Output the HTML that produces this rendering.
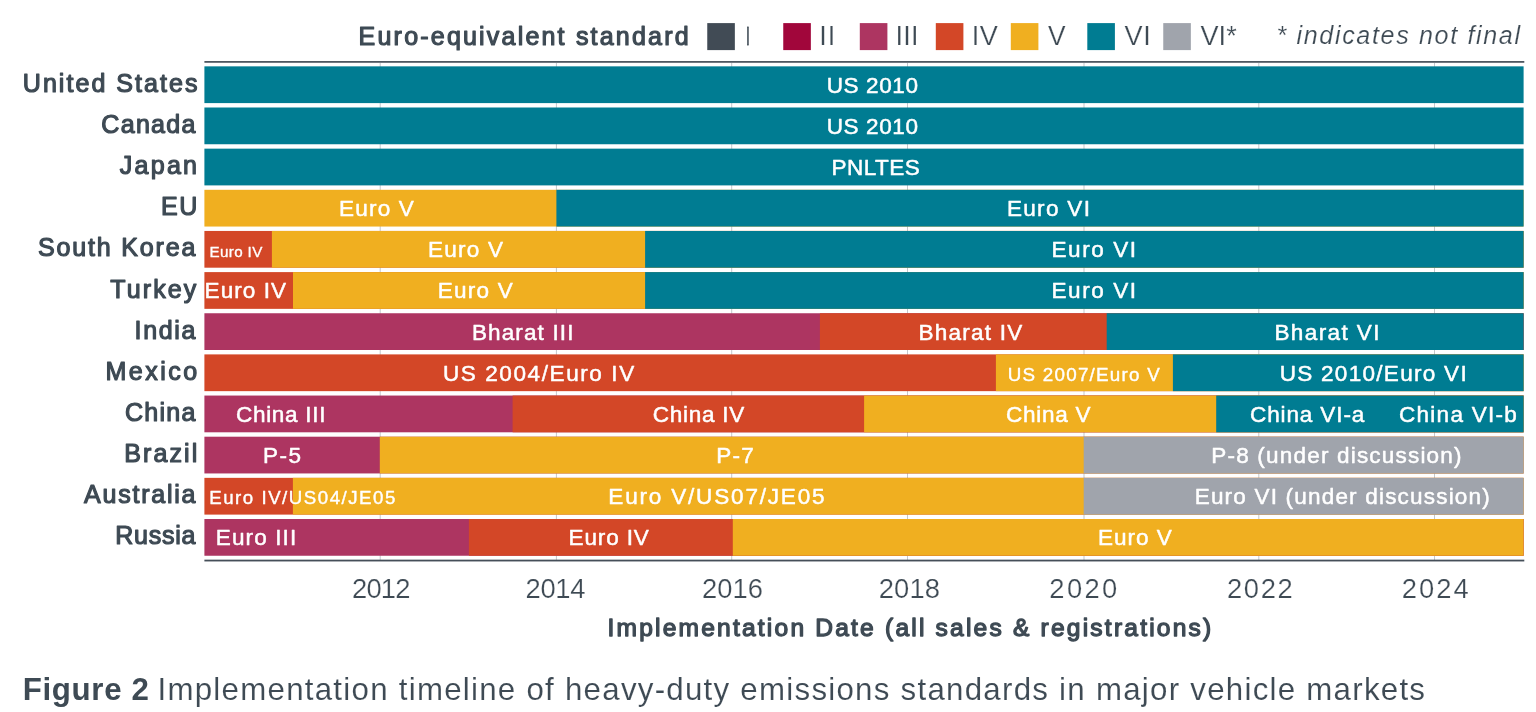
<!DOCTYPE html>
<html><head><meta charset="utf-8"><style>
html,body{margin:0;padding:0;background:#fff;width:1536px;height:712px;overflow:hidden}
svg{display:block;font-family:"Liberation Sans",sans-serif;will-change:transform}
text{stroke-linejoin:round}
</style></head><body>
<svg width="1536" height="712" viewBox="0 0 1536 712">
<rect x="379.70" y="63" width="1" height="497" fill="#c4c8cc"/>
<rect x="555.90" y="63" width="1" height="497" fill="#c4c8cc"/>
<rect x="731.20" y="63" width="1" height="497" fill="#c4c8cc"/>
<rect x="907.00" y="63" width="1" height="497" fill="#c4c8cc"/>
<rect x="1083.50" y="63" width="1" height="497" fill="#c4c8cc"/>
<rect x="1258.30" y="63" width="1" height="497" fill="#c4c8cc"/>
<rect x="1434.00" y="63" width="1" height="497" fill="#c4c8cc"/>
<rect x="204.40" y="66.35" width="1319.20" height="36.75" fill="#007c92"/>
<rect x="204.40" y="107.50" width="1319.20" height="36.75" fill="#007c92"/>
<rect x="204.40" y="148.65" width="1319.20" height="36.75" fill="#007c92"/>
<rect x="204.40" y="189.80" width="1319.20" height="36.75" fill="#f0af20"/>
<rect x="556.40" y="189.80" width="967.20" height="36.75" fill="#007c92"/>
<rect x="204.40" y="230.95" width="1319.20" height="36.75" fill="#d34727"/>
<rect x="271.90" y="230.95" width="1251.70" height="36.75" fill="#f0af20"/>
<rect x="645.10" y="230.95" width="878.50" height="36.75" fill="#007c92"/>
<rect x="204.40" y="272.10" width="1319.20" height="36.75" fill="#d34727"/>
<rect x="293.00" y="272.10" width="1230.60" height="36.75" fill="#f0af20"/>
<rect x="645.10" y="272.10" width="878.50" height="36.75" fill="#007c92"/>
<rect x="204.40" y="313.25" width="1319.20" height="36.75" fill="#ad3561"/>
<rect x="819.90" y="313.25" width="703.70" height="36.75" fill="#d34727"/>
<rect x="1106.70" y="313.25" width="416.90" height="36.75" fill="#007c92"/>
<rect x="204.40" y="354.40" width="1319.20" height="36.75" fill="#d34727"/>
<rect x="995.90" y="354.40" width="527.70" height="36.75" fill="#f0af20"/>
<rect x="1172.90" y="354.40" width="350.70" height="36.75" fill="#007c92"/>
<rect x="204.40" y="395.55" width="1319.20" height="36.75" fill="#ad3561"/>
<rect x="512.60" y="395.55" width="1011.00" height="36.75" fill="#d34727"/>
<rect x="864.10" y="395.55" width="659.50" height="36.75" fill="#f0af20"/>
<rect x="1216.20" y="395.55" width="307.40" height="36.75" fill="#007c92"/>
<rect x="204.40" y="436.70" width="1319.20" height="36.75" fill="#ad3561"/>
<rect x="379.80" y="436.70" width="1143.80" height="36.75" fill="#f0af20"/>
<rect x="1083.70" y="436.70" width="439.90" height="36.75" fill="#a0a4ac"/>
<rect x="204.40" y="477.85" width="1319.20" height="36.75" fill="#d34727"/>
<rect x="292.90" y="477.85" width="1230.70" height="36.75" fill="#f0af20"/>
<rect x="1083.70" y="477.85" width="439.90" height="36.75" fill="#a0a4ac"/>
<rect x="204.40" y="519.00" width="1319.20" height="36.75" fill="#ad3561"/>
<rect x="468.90" y="519.00" width="1054.70" height="36.75" fill="#d34727"/>
<rect x="732.80" y="519.00" width="790.80" height="36.75" fill="#f0af20"/>
<rect x="204.4" y="61.05" width="1319.9" height="1.7" fill="#454f59"/>
<rect x="204.4" y="559.65" width="1319.9" height="1.8" fill="#454f59"/>
<rect x="707.25" y="23.1" width="27.6" height="27" fill="#414b55"/>
<rect x="783.25" y="23.1" width="27.6" height="27" fill="#a1063b"/>
<rect x="859.8" y="23.1" width="27.6" height="27" fill="#ad3561"/>
<rect x="935.8" y="23.1" width="27.6" height="27" fill="#d34727"/>
<rect x="1010.8" y="23.1" width="27.6" height="27" fill="#f0af20"/>
<rect x="1087.3" y="23.1" width="27.6" height="27" fill="#007c92"/>
<rect x="1163.25" y="23.1" width="27.6" height="27" fill="#a0a4ac"/>
<text transform="translate(22.76 91.77) scale(1.0000 1)" font-size="25.06" letter-spacing="2.03" fill="#3e4a54" stroke="#3e4a54" stroke-width="1.16">United States</text>
<text transform="translate(101.31 132.92) scale(1.0000 1)" font-size="25.06" letter-spacing="1.28" fill="#3e4a54" stroke="#3e4a54" stroke-width="1.16">Canada</text>
<text transform="translate(119.79 174.07) scale(1.0000 1)" font-size="25.06" letter-spacing="2.24" fill="#3e4a54" stroke="#3e4a54" stroke-width="1.16">Japan</text>
<text transform="translate(161.12 215.22) scale(1.0000 1)" font-size="25.06" letter-spacing="1.34" fill="#3e4a54" stroke="#3e4a54" stroke-width="1.16">EU</text>
<text transform="translate(38.10 256.37) scale(1.0000 1)" font-size="25.06" letter-spacing="1.80" fill="#3e4a54" stroke="#3e4a54" stroke-width="1.16">South Korea</text>
<text transform="translate(110.29 297.52) scale(1.0000 1)" font-size="25.06" letter-spacing="2.08" fill="#3e4a54" stroke="#3e4a54" stroke-width="1.16">Turkey</text>
<text transform="translate(134.62 338.67) scale(1.0000 1)" font-size="25.06" letter-spacing="1.62" fill="#3e4a54" stroke="#3e4a54" stroke-width="1.16">India</text>
<text transform="translate(105.42 379.82) scale(1.0004 1)" font-size="25.06" letter-spacing="2.50" fill="#3e4a54" stroke="#3e4a54" stroke-width="1.16">Mexico</text>
<text transform="translate(125.01 420.97) scale(1.0000 1)" font-size="25.06" letter-spacing="1.25" fill="#3e4a54" stroke="#3e4a54" stroke-width="1.16">China</text>
<text transform="translate(124.22 462.12) scale(1.0000 1)" font-size="25.06" letter-spacing="2.08" fill="#3e4a54" stroke="#3e4a54" stroke-width="1.16">Brazil</text>
<text transform="translate(84.08 503.27) scale(1.0000 1)" font-size="25.06" letter-spacing="1.74" fill="#3e4a54" stroke="#3e4a54" stroke-width="1.16">Australia</text>
<text transform="translate(115.32 544.42) scale(1.0000 1)" font-size="25.06" letter-spacing="0.71" fill="#3e4a54" stroke="#3e4a54" stroke-width="1.16">Russia</text>
<text transform="translate(826.74 92.70) scale(1.0000 1)" font-size="22.53" letter-spacing="0.61" fill="#fff" stroke="#fff" stroke-width="0.50">US 2010</text>
<text transform="translate(826.74 133.85) scale(1.0000 1)" font-size="22.53" letter-spacing="0.61" fill="#fff" stroke="#fff" stroke-width="0.50">US 2010</text>
<text transform="translate(831.39 175.00) scale(1.0000 1)" font-size="22.53" letter-spacing="0.48" fill="#fff" stroke="#fff" stroke-width="0.50">PNLTES</text>
<text transform="translate(339.09 216.15) scale(1.0000 1)" font-size="22.53" letter-spacing="1.17" fill="#fff" stroke="#fff" stroke-width="0.50">Euro V</text>
<text transform="translate(1006.89 216.15) scale(1.0000 1)" font-size="22.53" letter-spacing="1.32" fill="#fff" stroke="#fff" stroke-width="0.50">Euro VI</text>
<text transform="translate(209.48 257.38) scale(1.0000 1)" font-size="15.21" letter-spacing="0.36" fill="#fff" stroke="#fff" stroke-width="0.34">Euro IV</text>
<text transform="translate(427.99 257.30) scale(1.0000 1)" font-size="22.53" letter-spacing="1.23" fill="#fff" stroke="#fff" stroke-width="0.50">Euro V</text>
<text transform="translate(1051.49 257.30) scale(1.0000 1)" font-size="22.53" letter-spacing="1.59" fill="#fff" stroke="#fff" stroke-width="0.50">Euro VI</text>
<text transform="translate(204.59 298.45) scale(1.0000 1)" font-size="22.53" letter-spacing="1.05" fill="#fff" stroke="#fff" stroke-width="0.50">Euro IV</text>
<text transform="translate(437.79 298.45) scale(1.0000 1)" font-size="22.53" letter-spacing="1.21" fill="#fff" stroke="#fff" stroke-width="0.50">Euro V</text>
<text transform="translate(1051.49 298.45) scale(1.0000 1)" font-size="22.53" letter-spacing="1.59" fill="#fff" stroke="#fff" stroke-width="0.50">Euro VI</text>
<text transform="translate(471.89 339.60) scale(1.0000 1)" font-size="22.53" letter-spacing="1.13" fill="#fff" stroke="#fff" stroke-width="0.50">Bharat III</text>
<text transform="translate(918.59 339.60) scale(1.0000 1)" font-size="22.53" letter-spacing="1.23" fill="#fff" stroke="#fff" stroke-width="0.50">Bharat IV</text>
<text transform="translate(1274.39 339.60) scale(1.0000 1)" font-size="22.53" letter-spacing="1.41" fill="#fff" stroke="#fff" stroke-width="0.50">Bharat VI</text>
<text transform="translate(442.94 380.75) scale(1.0000 1)" font-size="22.53" letter-spacing="1.59" fill="#fff" stroke="#fff" stroke-width="0.50">US 2004/Euro IV</text>
<text transform="translate(1007.78 380.79) scale(1.0000 1)" font-size="18.80" letter-spacing="1.25" fill="#fff" stroke="#fff" stroke-width="0.42">US 2007/Euro V</text>
<text transform="translate(1279.64 380.75) scale(1.0000 1)" font-size="22.53" letter-spacing="1.29" fill="#fff" stroke="#fff" stroke-width="0.50">US 2010/Euro VI</text>
<text transform="translate(235.99 421.90) scale(1.0000 1)" font-size="22.53" letter-spacing="0.70" fill="#fff" stroke="#fff" stroke-width="0.50">China III</text>
<text transform="translate(652.69 421.90) scale(1.0000 1)" font-size="22.53" letter-spacing="0.75" fill="#fff" stroke="#fff" stroke-width="0.50">China IV</text>
<text transform="translate(1005.89 421.90) scale(1.0000 1)" font-size="22.53" letter-spacing="0.76" fill="#fff" stroke="#fff" stroke-width="0.50">China V</text>
<text transform="translate(1249.99 421.90) scale(1.0000 1)" font-size="22.53" letter-spacing="0.88" fill="#fff" stroke="#fff" stroke-width="0.50">China VI-a</text>
<text transform="translate(1399.09 421.90) scale(1.0000 1)" font-size="22.53" letter-spacing="1.25" fill="#fff" stroke="#fff" stroke-width="0.50">China VI-b</text>
<text transform="translate(262.99 463.05) scale(1.0000 1)" font-size="22.53" letter-spacing="1.46" fill="#fff" stroke="#fff" stroke-width="0.50">P-5</text>
<text transform="translate(716.29 463.05) scale(1.0000 1)" font-size="22.53" letter-spacing="1.16" fill="#fff" stroke="#fff" stroke-width="0.50">P-7</text>
<text transform="translate(1211.29 463.05) scale(1.0000 1)" font-size="22.53" letter-spacing="1.19" fill="#fff" stroke="#fff" stroke-width="0.50">P-8 (under discussion)</text>
<text transform="translate(209.25 504.24) scale(1.0000 1)" font-size="18.66" letter-spacing="1.52" fill="#fff" stroke="#fff" stroke-width="0.41">Euro IV/US04/JE05</text>
<text transform="translate(608.29 504.20) scale(1.0000 1)" font-size="22.53" letter-spacing="1.82" fill="#fff" stroke="#fff" stroke-width="0.50">Euro V/US07/JE05</text>
<text transform="translate(1194.69 504.20) scale(1.0000 1)" font-size="22.53" letter-spacing="1.19" fill="#fff" stroke="#fff" stroke-width="0.50">Euro VI (under discussion)</text>
<text transform="translate(215.79 545.35) scale(1.0000 1)" font-size="22.53" letter-spacing="1.11" fill="#fff" stroke="#fff" stroke-width="0.50">Euro III</text>
<text transform="translate(568.59 545.35) scale(1.0000 1)" font-size="22.53" letter-spacing="0.85" fill="#fff" stroke="#fff" stroke-width="0.50">Euro IV</text>
<text transform="translate(1097.99 545.35) scale(1.0000 1)" font-size="22.53" letter-spacing="0.97" fill="#fff" stroke="#fff" stroke-width="0.50">Euro V</text>
<text transform="translate(358.62 44.62) scale(1.0000 1)" font-size="25.06" letter-spacing="2.18" fill="#3e4a54" stroke="#3e4a54" stroke-width="1.16">Euro-equivalent standard</text>
<text transform="translate(746.37 44.70) scale(0.4657 1)" font-size="25.59" fill="#3e4a54" stroke="#3e4a54" stroke-width="0.99">I</text>
<text transform="translate(819.28 45.21) scale(1.0000 1)" font-size="27.05" letter-spacing="0.94" fill="#3e4a54" stroke="#fff" stroke-width="0.21">II</text>
<text transform="translate(895.58 45.21) scale(1.0000 1)" font-size="27.05" letter-spacing="0.21" fill="#3e4a54" stroke="#fff" stroke-width="0.21">III</text>
<text transform="translate(971.68 45.21) scale(1.0000 1)" font-size="27.05" letter-spacing="0.53" fill="#3e4a54" stroke="#fff" stroke-width="0.21">IV</text>
<text transform="translate(1047.91 45.19) scale(0.9744 1)" font-size="27.00" fill="#3e4a54" stroke="#fff" stroke-width="0.18">V</text>
<text transform="translate(1124.49 45.21) scale(1.0000 1)" font-size="27.05" letter-spacing="0.80" fill="#3e4a54" stroke="#fff" stroke-width="0.21">VI</text>
<text transform="translate(1200.49 45.21) scale(1.0000 1)" font-size="27.05" letter-spacing="0.08" fill="#3e4a54" stroke="#fff" stroke-width="0.21">VI*</text>
<text transform="translate(1276.49 43.88) scale(1.0000 1)" font-size="25.08" font-style="italic" letter-spacing="1.65" fill="#3e4a54" stroke="#fff" stroke-width="0.17">* indicates not final</text>
<text transform="translate(352.10 597.91) scale(1.0000 1)" font-size="27.36" letter-spacing="-0.85" fill="#3e4a54" stroke="#fff" stroke-width="0.23">2012</text>
<text transform="translate(525.60 597.91) scale(1.0000 1)" font-size="27.36" letter-spacing="-0.33" fill="#3e4a54" stroke="#fff" stroke-width="0.23">2014</text>
<text transform="translate(701.90 597.91) scale(1.0000 1)" font-size="27.36" letter-spacing="0.08" fill="#3e4a54" stroke="#fff" stroke-width="0.23">2016</text>
<text transform="translate(878.80 597.91) scale(1.0000 1)" font-size="27.36" letter-spacing="0.08" fill="#3e4a54" stroke="#fff" stroke-width="0.23">2018</text>
<text transform="translate(1049.30 597.91) scale(1.0000 1)" font-size="27.36" letter-spacing="2.37" fill="#3e4a54" stroke="#fff" stroke-width="0.23">2020</text>
<text transform="translate(1227.00 597.91) scale(1.0000 1)" font-size="27.36" letter-spacing="1.61" fill="#3e4a54" stroke="#fff" stroke-width="0.23">2022</text>
<text transform="translate(1401.80 597.91) scale(1.0000 1)" font-size="27.36" letter-spacing="2.01" fill="#3e4a54" stroke="#fff" stroke-width="0.23">2024</text>
<text transform="translate(607.48 636.05) scale(1.0000 1)" font-size="24.55" letter-spacing="2.21" fill="#3e4a54" stroke="#3e4a54" stroke-width="1.31">Implementation Date (all sales &amp; registrations)</text>
<text transform="translate(22.80 699.70) scale(1.0000 1)" font-size="31.25" font-weight="bold" letter-spacing="0.65" fill="#3e4a54">Figure 2</text>
<text transform="translate(157.50 699.65) scale(1.0000 1)" font-size="31.26" letter-spacing="1.26" fill="#3e4a54" stroke="#fff" stroke-width="0.11">Implementation timeline of heavy-duty emissions standards in major vehicle markets</text>
</svg>
</body></html>
